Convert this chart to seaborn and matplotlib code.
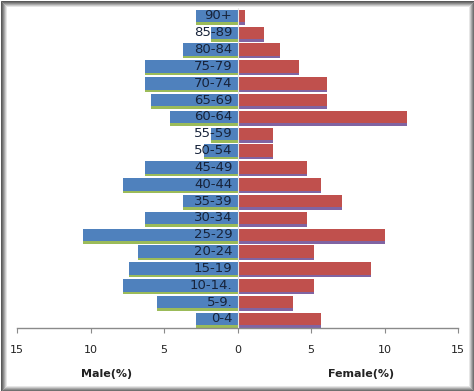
import numpy as np
import pandas as pd
import matplotlib
matplotlib.use('Agg')
import matplotlib.pyplot as plt
import matplotlib.transforms as mtransforms
from matplotlib.patches import Rectangle
import seaborn as sns

age_groups = ['0-4', '5-9.', '10-14.', '15-19', '20-24', '25-29', '30-34', '35-39',
              '40-44', '45-49', '50-54', '55-59', '60-64', '65-69', '70-74', '75-79',
              '80-84', '85-89', '90+']
male_pct = [2.8, 5.5, 7.8, 7.4, 6.8, 10.5, 6.3, 3.7, 7.8, 6.3, 2.3, 1.8, 4.6, 5.9,
            6.3, 6.3, 3.7, 1.8, 2.8]
female_pct = [5.7, 3.8, 5.2, 9.1, 5.2, 10.0, 4.7, 7.1, 5.7, 4.7, 2.4, 2.4, 11.5, 6.1,
              6.1, 4.2, 2.9, 1.8, 0.5]
x_ticks = [-15, -10, -5, 0, 5, 10, 15]
x_tick_labels = ['15', '10', '5', '0', '5', '10', '15']
male_label = 'Male(%)'
female_label = 'Female(%)'

BLUE = '#4F81BD'
GREEN = '#9BBB59'
RED = '#C0504D'
PURPLE = '#8064A2'

df = pd.DataFrame({'age': age_groups,
                   'male': [-v for v in male_pct],
                   'female': female_pct})
order = age_groups[::-1]

sns.set_theme(style='white')
plt.rcParams['font.family'] = ['DejaVu Sans']

W, H = 474, 391
fig = plt.figure(figsize=(W / 100, H / 100), dpi=100)
fig.patch.set_facecolor('white')
ax = fig.add_axes([17 / W, 63 / H, 441 / W, 320 / H])
ax.set_facecolor('white')

shadow = mtransforms.ScaledTranslation(0, -0.026, fig.dpi_scale_trans)


def bars(col, color, shifted):
    n0 = len(ax.patches)
    sns.barplot(data=df, x=col, y='age', order=order, orient='h', color=color,
                saturation=1, width=0.74, ax=ax, errorbar=None, linewidth=0)
    for p in ax.patches[n0:]:
        if shifted:
            p.set_transform(ax.transData + shadow)
            p.set_zorder(1)
        else:
            p.set_zorder(2)


bars('male', GREEN, True)
bars('male', BLUE, False)
bars('female', PURPLE, True)
bars('female', RED, False)

ax.axvline(0, color='#e8e8e8', linewidth=0.8, zorder=3)

for i, lab in enumerate(order):
    ax.text(-0.35, i, lab, ha='right', va='center', fontsize=9.5,
            color='#17233a', zorder=5)

ax.set_xlim(-15, 15)
ax.set_ylim(18.535, -0.475)
ax.set_xticks(x_ticks)
ax.set_xticklabels(x_tick_labels)
ax.set_yticks([])
ax.set_xlabel('')
ax.set_ylabel('')
for s in ['top', 'right', 'left']:
    ax.spines[s].set_visible(False)
ax.spines['bottom'].set_color('#8a8a8a')
ax.spines['bottom'].set_linewidth(1.0)
ax.tick_params(axis='x', direction='out', length=3.5, width=0.8, color='#8a8a8a',
               pad=8.5, labelsize=8, labelcolor='#222222', bottom=True)

fig.text(107 / W, 1 - 374 / H, male_label, ha='center', va='center',
         fontsize=8, fontweight='bold', color='#222222')
fig.text(361 / W, 1 - 374 / H, female_label, ha='center', va='center',
         fontsize=8, fontweight='bold', color='#222222')

# gradient frame
shades = ['#5a5a5a', '#707070', '#8c8c8c', '#aaaaaa', '#cacaca', '#e6e6e6']
for k, c in enumerate(shades):
    fig.add_artist(Rectangle(((k + 0.5) / W, (k + 0.5) / H),
                             1 - (2 * k + 1) / W, 1 - (2 * k + 1) / H,
                             transform=fig.transFigure, fill=False,
                             edgecolor=c, linewidth=0.72, zorder=10))

fig.savefig('out.png', dpi=100, facecolor=fig.get_facecolor())
